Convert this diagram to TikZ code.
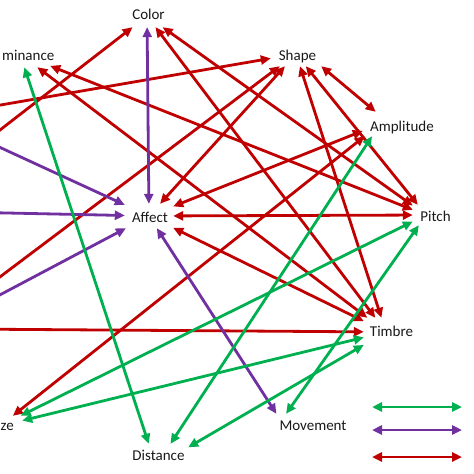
\documentclass[tikz,border=0pt]{standalone}
\usepackage{fontspec}
\setmainfont{Carlito}
\usetikzlibrary{arrows.meta,calc}
\definecolor{cred}{HTML}{C00000}
\definecolor{cpurple}{HTML}{7030A0}
\definecolor{cgreen}{HTML}{00B050}
\begin{document}
\begin{tikzpicture}[x=1pt,y=-1pt,
  hub/.style={draw=none, rectangle, inner sep=0pt},
  txt/.style={font=\fontsize{15}{18}\selectfont, inner sep=0pt, text=black!90},
  link/.style={line width=2.8pt, {Triangle[length=10pt,width=9pt]}-{Triangle[length=10pt,width=9pt]}},
  rl/.style={link, draw=cred},
  pl/.style={link, draw=cpurple},
  gl/.style={link, draw=cgreen}]
\useasboundingbox (0,0) rectangle (474,474);
\clip (0,0) rectangle (474,474);
\fill[white] (0,0) rectangle (474,474);

% hubs (arrow end regions)
\node[hub, minimum width=40pt, minimum height=22pt] (Color) at (147,16) {};
\node[hub, minimum width=60pt, minimum height=26pt] (Dominance) at (20,54) {};
\node[hub, minimum width=50pt, minimum height=24pt] (Shape) at (296,54) {};
\node[hub, minimum width=34pt, minimum height=24pt] (Amplitude) at (380,124) {};
\node[hub, minimum width=26pt, minimum height=20pt] (Pitch) at (426,215) {};
\node[hub, minimum width=48pt, minimum height=24pt] (Affect) at (149,216) {};
\node[hub, minimum width=44pt, minimum height=28pt] (Timbre) at (386,332) {};
\node[hub, minimum width=44pt, minimum height=20pt] (Size) at (0,426) {};
\node[hub, minimum width=64pt, minimum height=44pt] (Distance) at (156,466) {};
\node[hub, minimum width=12pt, minimum height=14pt] (Movement) at (281,421) {};

% texts
\node[txt] (tColor) at (148.5,14.5) {Color};
\node[txt, anchor=west] (tDominance) at (2,55) {minance};
\node[txt] (tShape) at (297.5,56.5) {Shape};
\node[txt] (tAmplitude) at (402,127.5) {Amplitude};
\node[txt] (tPitch) at (435.5,216) {Pitch};
\node[txt] (tAffect) at (150,217) {Affect};
\node[txt] (tTimbre) at (391.5,331.5) {Timbre};
\node[txt, anchor=west] (tSize) at (0.5,426.5) {ze};
\node[txt] (tDistance) at (158.5,455.5) {Distance};
\node[txt] (tMovement) at (313,426) {Movement};

% off-picture ends
\coordinate (L1) at (-40,112);
\coordinate (L2) at (-40,161);
\coordinate (L3) at (-40,129);
\coordinate (L4) at (-40,212);
\coordinate (L5) at (-40,307);
\coordinate (L6) at (-40,316);
\coordinate (L7) at (-40,329);

% red links
\draw[rl] (L1) -- (Shape);
\draw[rl] (L2) -- (Color);
\draw[rl] (L5) -- (Shape);
\draw[rl] (L7) -- (Timbre);
\draw[rl] (Dominance) -- (Timbre);
\draw[rl] (Dominance) -- (Pitch);
\draw[rl] (Color) -- (Timbre);
\draw[rl] (Color) -- (Pitch);
\draw[rl] (Shape) -- (Affect);
\draw[rl] (Shape) -- (Timbre);
\draw[rl] (Shape) -- (Pitch);
\draw[rl] (Shape.south east) -- ($(Amplitude.north west)!0.75!(Amplitude.north)$);
\draw[rl] (Amplitude) -- (Affect);
\draw[rl] (Amplitude) -- (Size);
\draw[rl] (Pitch) -- (Affect);
\draw[rl] (Affect) -- (Timbre);

% purple links
\draw[pl] (L3) -- (Affect);
\draw[pl] (L4) -- (Affect);
\draw[pl] (L6) -- (Affect);
\draw[pl] (Color) -- (Affect);
\draw[pl] (Affect) -- (Movement);

% green links
\draw[gl] (Dominance) -- (Distance);
\draw[gl] (Amplitude) -- (Distance);
\draw[gl] (Pitch) -- (Size);
\draw[gl] (Pitch) -- (Movement);
\draw[gl] (Timbre) -- (Size);
\draw[gl] (Timbre) -- (Distance);

% legend
\coordinate (g1) at (372,407); \coordinate (g2) at (462,407);
\coordinate (p1) at (372,430); \coordinate (p2) at (462,430);
\coordinate (r1) at (372,457); \coordinate (r2) at (462,457);
\draw[gl] (g1) -- (g2);
\draw[pl] (p1) -- (p2);
\draw[rl] (r1) -- (r2);
\end{tikzpicture}
\end{document}
